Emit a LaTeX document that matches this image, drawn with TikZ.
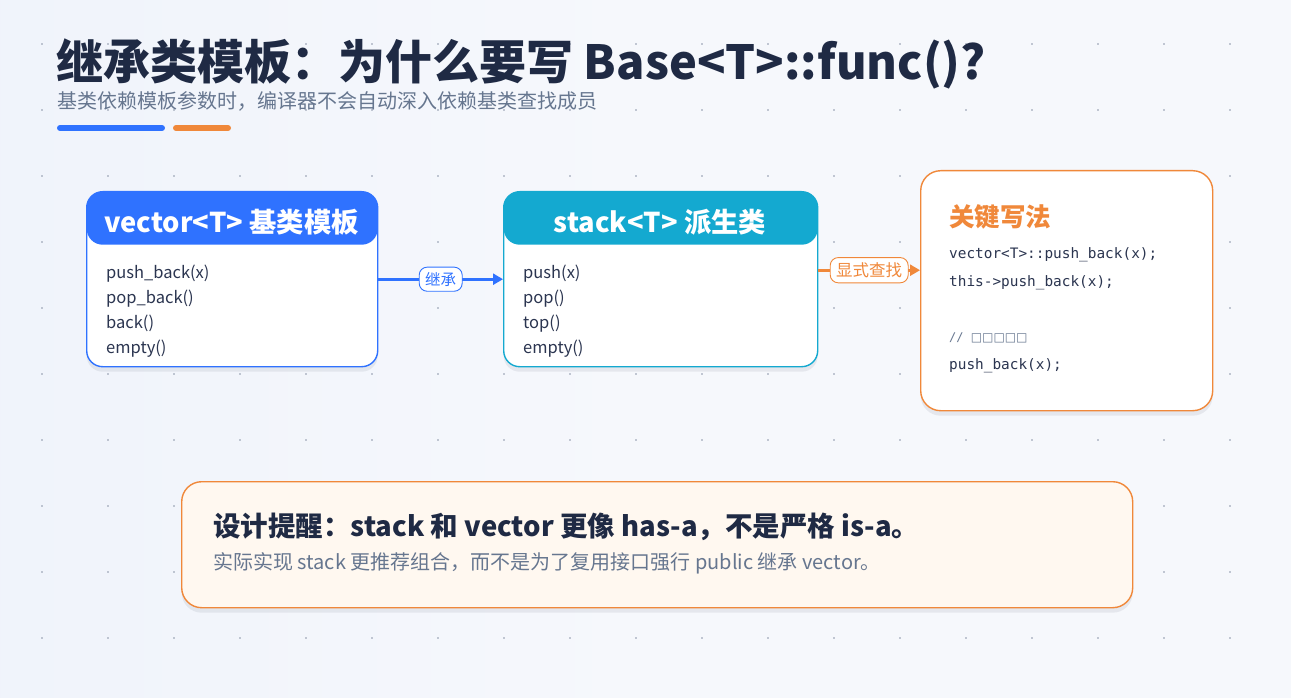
\documentclass[tikz,border=0pt]{standalone}
\usepackage{fontspec}
\setmainfont{Noto Sans CJK SC}
\setmonofont{DejaVu Sans Mono}
\newfontfamily\symf{DejaVu Sans}
\usetikzlibrary{arrows.meta,shadows}
\definecolor{navy}{HTML}{1F2A44}
\definecolor{ink}{HTML}{2B3550}
\definecolor{graytx}{HTML}{66768F}
\definecolor{cblue}{HTML}{2F72FF}
\definecolor{cteal}{HTML}{14A9D0}
\definecolor{corange}{HTML}{F0883A}
\definecolor{cream}{HTML}{FFF8F0}
\definecolor{dotc}{HTML}{8A94A8}
\definecolor{bgl}{HTML}{EAEFFA}
\definecolor{bgm}{HTML}{F6F8FC}
\definecolor{bgr}{HTML}{E4EFFA}
\pgfdeclarehorizontalshading{bgshade}{100bp}{color(0bp)=(bgl); color(50bp)=(bgm); color(80bp)=(bgm); color(100bp)=(bgr)}
\tikzset{
  fs/.style={font=\fontsize{#1}{#1}\selectfont},
  fsb/.style={font=\bfseries\fontsize{#1}{#1}\selectfont},
  fsm/.style={font=\ttfamily\fontsize{#1}{#1}\selectfont},
  softshadow/.style={drop shadow={shadow xshift=0pt, shadow yshift=-5pt, opacity=0.08, fill=navy}},
  headtxt/.style={fsb=27.3, text=white, anchor=base, inner sep=0pt},
  itemtxt/.style={fs=16.5, text=ink, anchor=base west, inner sep=0pt},
  codetxt/.style={fsm=14.4, text=ink, anchor=base west, inner sep=0pt},
  tag/.style={draw=#1, line width=0.9pt, fill=white, rounded corners=8pt, text=#1, inner xsep=6pt, inner ysep=5pt},
}
\begin{document}
\begin{tikzpicture}[x=1pt,y=-1pt]
\useasboundingbox (0,0) rectangle (1291,698);
\shade[shading=bgshade] (0,0) rectangle (1291,698);
\foreach \i in {0,...,18}{\foreach \j in {0,...,9}{\fill[dotc] (42+66*\i,44+66*\j) circle (0.8pt);}}
% title
\node[fsb=47, text=navy, anchor=base west, inner sep=0pt] (title) at (56,80) {继承类模板：为什么要写 Base<T>::func()?};
\node[fs=20, text=graytx, anchor=base west, inner sep=0pt] (sub) at (57,109) {基类依赖模板参数时，编译器不会自动深入依赖基类查找成员};
\draw[line width=6pt, line cap=round, cblue] (60,128) -- (162,128);
\draw[line width=6pt, line cap=round, corange] (176,128) -- (228,128);
% box 1
\node[draw=cblue, line width=1.4pt, fill=white, rounded corners=16pt, minimum width=291pt, minimum height=175pt, anchor=north west, softshadow,
  path picture={\fill[cblue] (path picture bounding box.north west) rectangle ([yshift=-53pt]path picture bounding box.north east);}] (vec) at (86,191) {};
\node[headtxt] (vech) at (231.5,233) {vector<T> 基类模板};
\node[itemtxt] (v1) at (106,278) {push\_back(x)};
\node[itemtxt] (v2) at (106,303) {pop\_back()};
\node[itemtxt] (v3) at (106,328) {back()};
\node[itemtxt] (v4) at (106,353) {empty()};
% box 2
\node[draw=cteal, line width=1.4pt, fill=white, rounded corners=16pt, minimum width=314pt, minimum height=175pt, anchor=north west, softshadow,
  path picture={\fill[cteal] (path picture bounding box.north west) rectangle ([yshift=-53pt]path picture bounding box.north east);}] (stk) at (503,191) {};
\node[headtxt] (stkh) at (660,233) {stack<T> 派生类};
\node[itemtxt] (s1) at (523,278) {push(x)};
\node[itemtxt] (s2) at (523,303) {pop()};
\node[itemtxt] (s3) at (523,328) {top()};
\node[itemtxt] (s4) at (523,353) {empty()};
% box 3
\node[draw=corange, line width=1.4pt, fill=white, rounded corners=20pt, minimum width=292pt, minimum height=240pt, anchor=north west, softshadow] (key) at (920,170) {};
\node[fsb=25.5, text=corange, anchor=base west, inner sep=0pt] (keyh) at (949,226) {关键写法};
\node[codetxt] (c1) at (949,258) {vector<T>::push\_back(x);};
\node[codetxt] (c2) at (949,286) {this->push\_back(x);};
\node[fsm=12, text=graytx, anchor=base west, inner sep=0pt] (c3) at (949,341) {// {\symf\fontsize{12}{12}\selectfont □□□□□}};
\node[codetxt] (c4) at (949,369) {push\_back(x);};
% arrows
\draw[cblue, line width=3pt, -{Triangle[length=10pt,width=11pt]}] (vec.east) -- (stk.west)
  node[midway, tag=cblue, fs=15.5] (lab1) {继承};
\draw[corange, line width=3pt, -{Triangle[length=10pt,width=11pt]}] ([yshift=9pt]stk.east) -- ([yshift=9pt]stk.east -| key.west)
  node[midway, tag=corange, fs=16.5] (lab2) {显式查找};
% box 4
\node[draw=corange, line width=1.4pt, fill=cream, rounded corners=20pt, minimum width=951pt, minimum height=126pt, anchor=north west, softshadow] (tip) at (181,481) {};
\node[fsb=27.5, text=navy, anchor=base west, inner sep=0pt] (tip1) at (213,536) {设计提醒：stack 和 vector 更像 has-a，不是严格 is-a。};
\node[fs=20, text=graytx, anchor=base west, inner sep=0pt] (tip2) at (213,569) {实际实现 stack 更推荐组合，而不是为了复用接口强行 public 继承 vector。};
\end{tikzpicture}
\end{document}
